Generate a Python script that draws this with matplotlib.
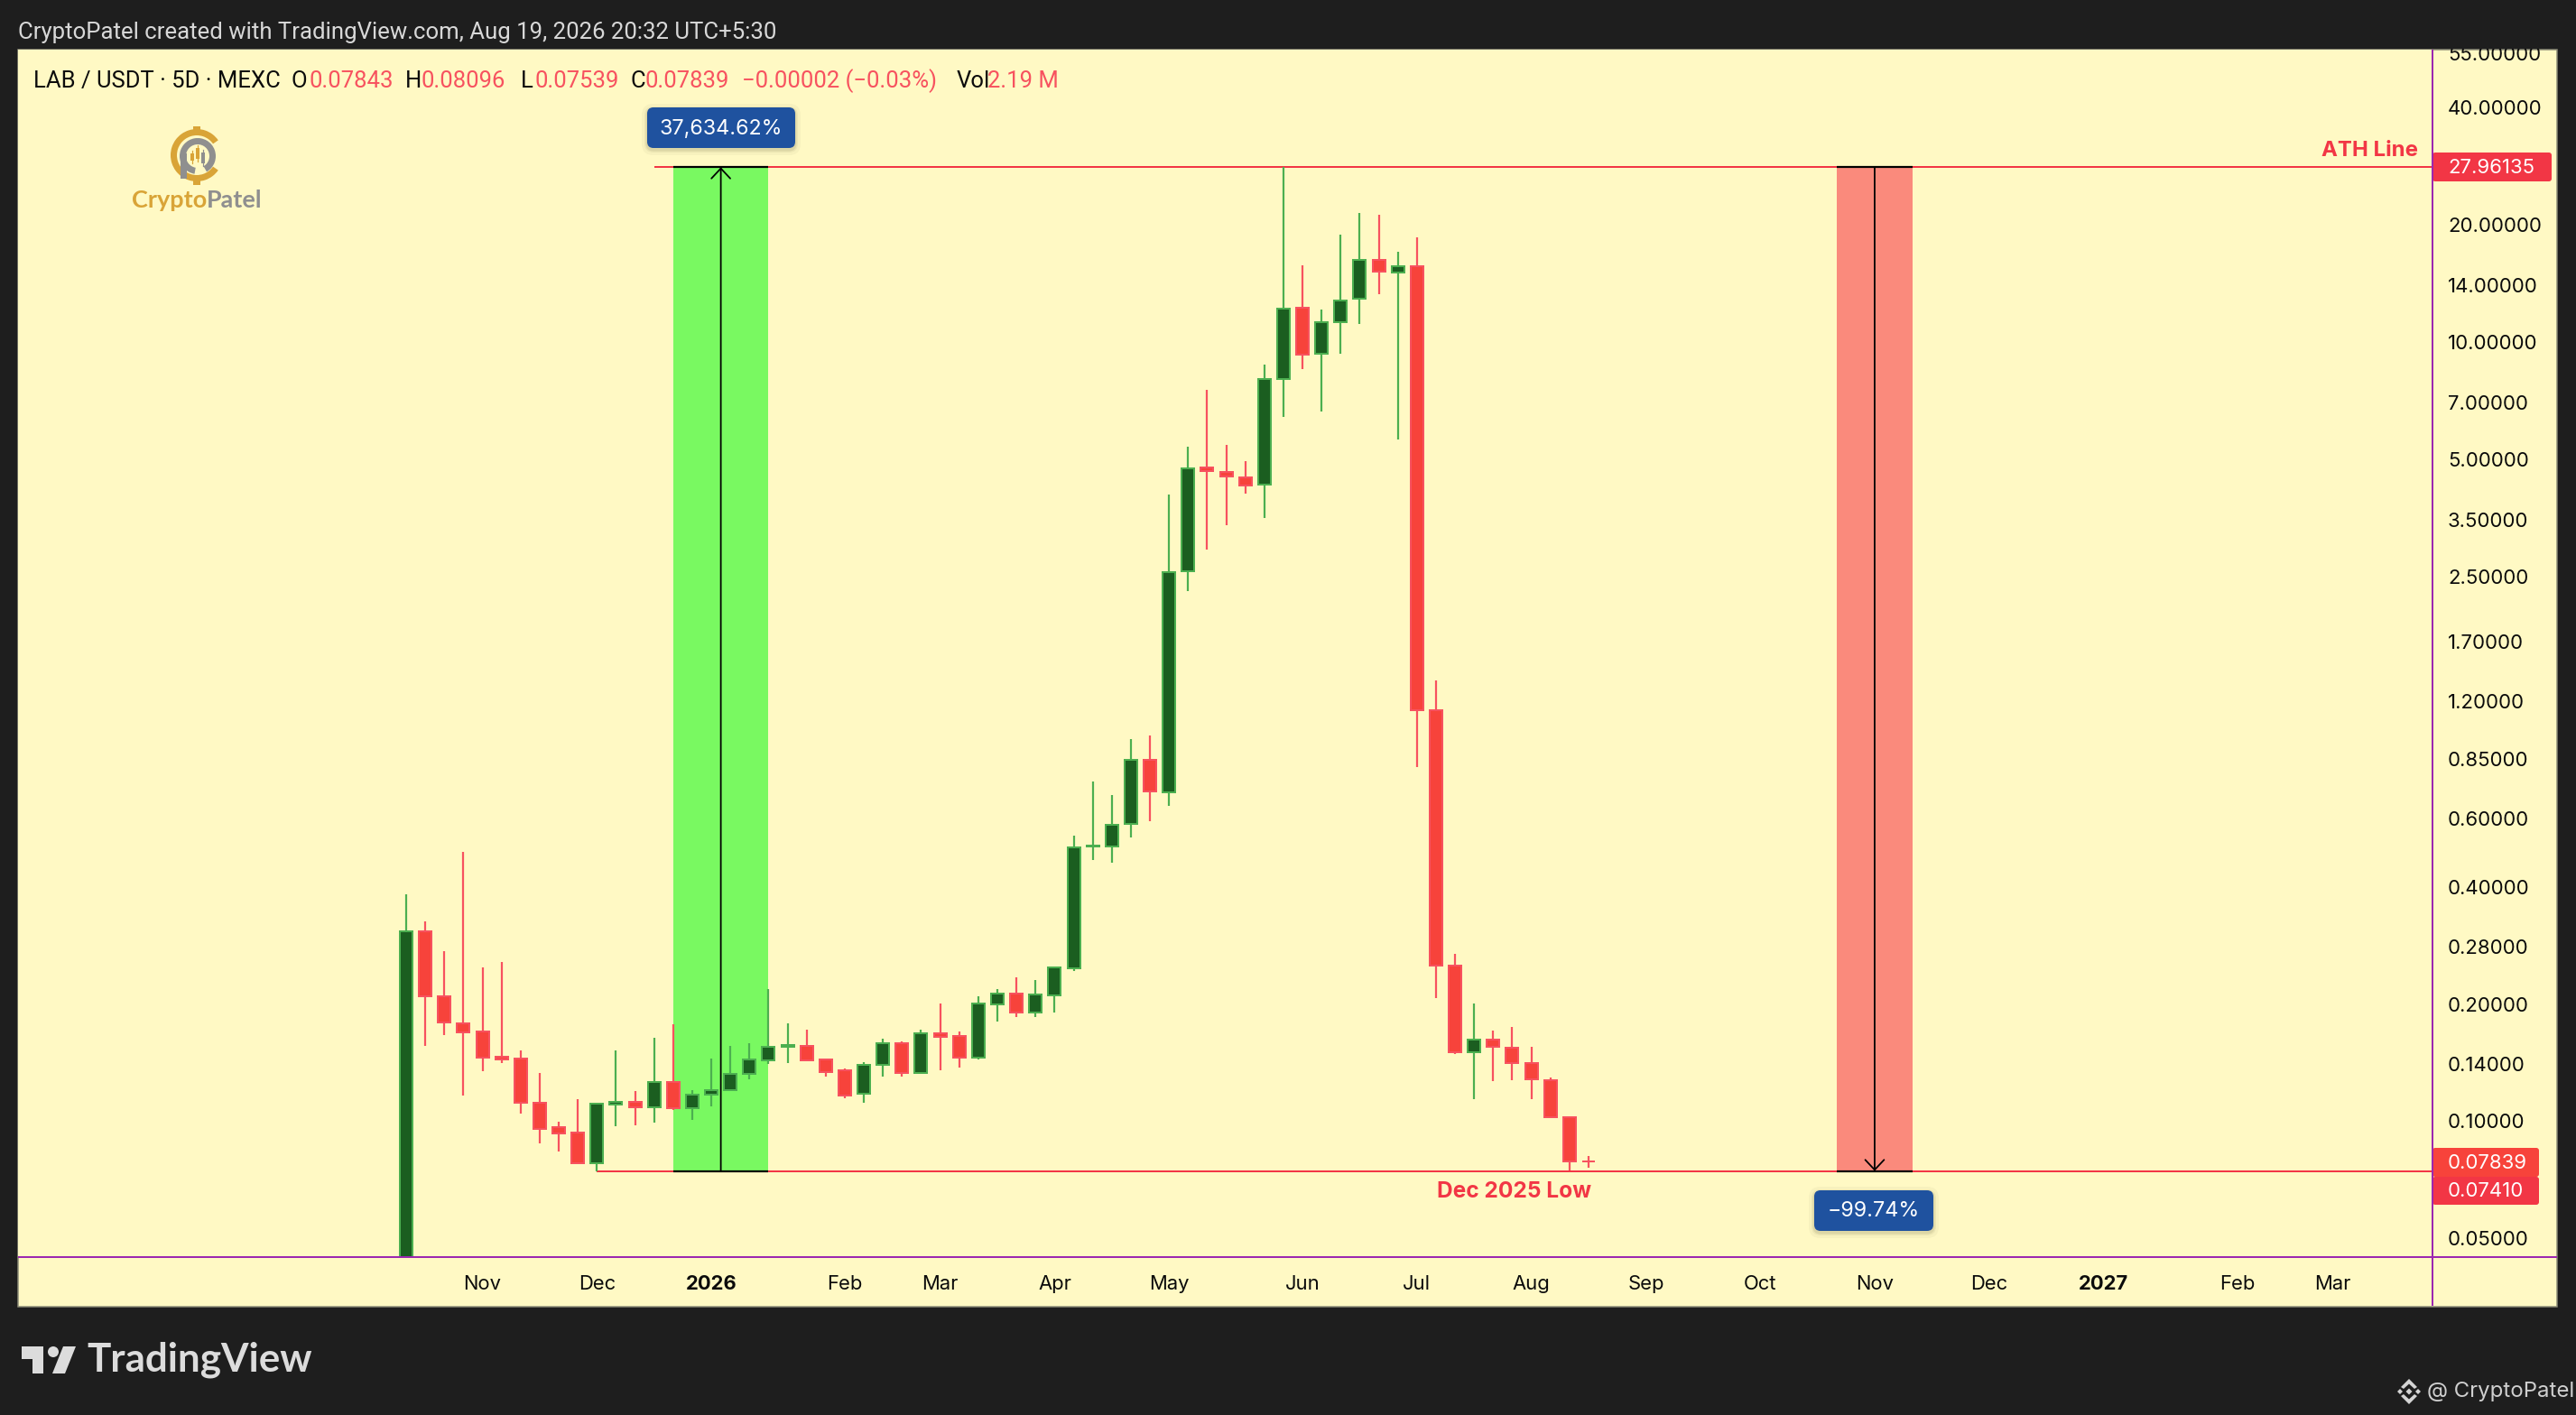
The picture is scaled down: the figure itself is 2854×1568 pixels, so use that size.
import numpy as np
import matplotlib
matplotlib.use("Agg")
import matplotlib.pyplot as plt
from matplotlib.patches import Rectangle, FancyBboxPatch, Polygon, Wedge, Circle
from matplotlib.transforms import ScaledTranslation

plt.rcParams['font.family'] = ['Inter', 'DejaVu Sans']

# ---------- data ----------
opens = [0.035, .306, .2078, .1771, .1688, .1453, .1438, .1108, .0959, .0928,
         .0778, .1100, .1113, .1082, .1252, .1073, .1166, .1194, .1314, .1424,
         .1547, .1550, .1431, .1342, .1168, .1386, .1575, .1321, .1670, .1644,
         .1451, .1988, .2116, .1895, .2097, .246, .5058, .5058, .5765, .8416,
         .6955, 2.569, 4.738, 4.623, 4.463, 4.295, 7.99, 12.21, 9.279, 11.19,
         12.86, 16.21, 15.02, 15.60, 1.132, .2493, .1493, .1612, .1540, .1401,
         .1270, .1021, .07843]
closes = [.306, .2078, .1781, .1686, .1451, .1436, .1108, .0952, .0927, .0778,
          .1102, .1113, .1082, .1252, .1076, .1166, .1194, .1314, .1431, .1542,
          .1561, .1428, .1333, .1160, .1386, .1575, .1321, .1670, .1641, .1451,
          .1991, .2116, .1895, .2103, .2469, .502, .5086, .5734, .8416, .6994,
          2.554, 4.712, 4.636, 4.487, 4.272, 7.99, 12.11, 9.253, 11.19, 12.72,
          16.17, 15.06, 15.56, 1.132, .2493, .1499, .1612, .1543, .1403, .1272,
          .1018, .07843, .07839]
highs = [.3804, .3242, .2719, .4888, .2469, .2551, .1512, .1323, .0992, .1133,
         .1102, .1512, .1190, .1629, .1765, .1196, .1441, .1553, .1578, .2173,
         .1774, .1710, .1431, .1359, .1411, .1621, .1595, .1710, .1995, .1691,
         .2083, .2173, .2329, .2292, .2469, .538, .7403, .6843, .9512, .9721,
         4.046, 5.355, 7.505, 5.414, 4.921, 8.716, 27.96135, 15.65, 12.05, 18.78,
         21.34, 21.10, 16.98, 18.47, 1.347, .2676, .1994, .1701, .1735, .1543,
         .1287, .1021, .08096]
lows = [.035, .1553, .1656, .1158, .1338, .1403, .1041, .0873, .0832, .0778,
        .0741, .0966, .0971, .0987, .1063, .1003, .1086, .1194, .1275, .1396,
        .1403, .1428, .1295, .1140, .1110, .1295, .1295, .1321, .1345, .1367,
        .1434, .1794, .1842, .1842, .1891, .2417, .4660, .4586, .5330, .5859,
        .6410, 2.285, 2.919, 3.371, 4.057, 3.522, 6.391, 8.484, 6.604, 9.279,
        11.07, 13.22, 5.594, .8078, .2065, .1476, .1135, .1264, .1270, .1135,
        .1018, .0745, .07539]

price_ticks = [55, 40, 20, 14, 10, 7, 5, 3.5, 2.5, 1.7, 1.2, .85, .6, .4, .28,
               .2, .14, .1, .05]
time_pos = [4, 10, 16, 23, 28, 34, 40, 47, 53, 59, 65, 71, 77, 83, 89, 96, 101]
time_labels = ['Nov', 'Dec', '2026', 'Feb', 'Mar', 'Apr', 'May', 'Jun', 'Jul',
               'Aug', 'Sep', 'Oct', 'Nov', 'Dec', '2027', 'Feb', 'Mar']
ath_price = 27.96135
low_price = 0.0741
last_price = 0.07839
green_range = (14, 19)
red_range = (75, 79)

# ---------- style ----------
DARK = '#1E1E1E'; CREAM = '#FFF9C4'; PURPLE = '#9C27B0'; LINE_RED = '#F23645'
UP_EDGE = '#4CAF50'; UP_FILL = '#1B5E20'; DN_EDGE = '#F7525F'; DN_FILL = '#F7433B'
BLUE = '#1F529F'; TXT = '#0B0B0B'; VAL_RED = '#F7525F'

W, H = 2854, 1568
def pt(px):
    return px * 0.72

fig = plt.figure(figsize=(W / 100, H / 100), dpi=100, facecolor=DARK)

L, R, T, B = 20, 2695, 54.5, 1393
ax = fig.add_axes([L / W, 1 - B / H, (R - L) / W, (B - T) / H], facecolor=CREAM, zorder=1)
ax.set_yscale('log')
ax.set_xlim(-20.35, 106.25)
ax.set_ylim(0.04456, 56.18)
for s in ax.spines.values():
    s.set_visible(False)

# measurement zones
for rng, col in ((green_range, '#79F961'), (red_range, '#FA8A7C')):
    ax.add_patch(Rectangle((rng[0], low_price), rng[1] - rng[0], ath_price - low_price,
                           facecolor=col, edgecolor='none', zorder=1))

# horizontal levels
ax.hlines(ath_price, 13, 106.25, color=LINE_RED, lw=pt(2), zorder=2)
ax.hlines(low_price, 10, 106.25, color=LINE_RED, lw=pt(2), zorder=2)
for rng in (green_range, red_range):
    ax.hlines([ath_price, low_price], rng[0], rng[1], color='black', lw=pt(2.2), zorder=2.5)

# arrows
arrow = dict(arrowstyle='->,head_length=0.8,head_width=0.75', color='black', lw=pt(1.8),
             shrinkA=0, shrinkB=0, mutation_scale=10)
ax.annotate('', xy=(sum(green_range) / 2, ath_price), xytext=(sum(green_range) / 2, low_price),
            arrowprops=arrow, zorder=2.6)
ax.annotate('', xy=(sum(red_range) / 2, low_price), xytext=(sum(red_range) / 2, ath_price),
            arrowprops=arrow, zorder=2.6)

# candles
xs = np.arange(len(opens))
for x, o, c, h, l in zip(xs, opens, closes, highs, lows):
    up = c >= o
    ax.vlines(x, l, h, color=UP_EDGE if up else DN_EDGE, lw=pt(2.2), capstyle='butt', zorder=3)
    ax.bar(x, abs(c - o), bottom=min(o, c), width=14 / 21.13,
           facecolor=UP_FILL if up else DN_FILL,
           edgecolor=UP_EDGE if up else DN_EDGE, linewidth=pt(2), zorder=4)

# axes ticks
ax.yaxis.tick_right()
ax.set_yticks(price_ticks)
ax.set_yticklabels([f'{v:.5f}' for v in price_ticks], fontsize=pt(22.2), color=TXT)
ax.minorticks_off()
ax.tick_params(axis='y', length=0, pad=pt(17))
down1 = ScaledTranslation(0, -1 / 100, fig.dpi_scale_trans)
for t in ax.get_yticklabels():
    t.set_transform(t.get_transform() + down1)
ax.set_xticks(time_pos)
ax.set_xticklabels(time_labels, fontsize=pt(22), color=TXT)
ax.tick_params(axis='x', length=0, pad=pt(20))
for t in ax.get_xticklabels():
    if t.get_text().isdigit():
        t.set_fontweight('bold')

# panel behind everything
fig.add_artist(Rectangle((L / W, 1 - 1447.5 / H), (2833 - L) / W, (1447.5 - T) / H,
                         transform=fig.transFigure, facecolor=CREAM,
                         edgecolor='#8C8C78', linewidth=pt(1.5), zorder=-1))

# ---------- overlay in pixel coordinates ----------
ov = fig.add_axes([0, 0, 1, 1], zorder=5)
ov.set_xlim(0, W); ov.set_ylim(H, 0); ov.axis('off')

ov.add_patch(Rectangle((0, 0), W, 53.5, facecolor=DARK, edgecolor='none'))
ov.text(20, 36, 'CryptoPatel created with TradingView.com, Aug 19, 2026 20:32 UTC+5:30',
        fontsize=pt(25.7), color='#D8D8D8', va='center', family=['Roboto', 'DejaVu Sans'])

# legend row
row = [(37, 'LAB / USDT · 5D · MEXC', TXT), (322, 'O', TXT), (342, '0.07843', VAL_RED),
       (449, 'H', TXT), (467, '0.08096', VAL_RED), (577, 'L', TXT), (592, '0.07539', VAL_RED),
       (698, 'C', TXT), (715, '0.07839', VAL_RED), (822, '−0.00002 (−0.03%)', VAL_RED),
       (1060, 'Vol', TXT), (1094, '2.19 M', VAL_RED)]
for x, s, c in row:
    ov.text(x, 90, s, fontsize=pt(25.6), color=c, va='center', family=['Roboto', 'DejaVu Sans'])

# measurement pills
def pill(x0, x1, y0, y1, text, col, r=7, shadow=True, ha='center', tx=None, fs=23.3):
    if shadow:
        for g, a in ((6, .05), (3, .08), (1.5, .12)):
            ov.add_patch(FancyBboxPatch((x0 - g, y0 - g + 2), x1 - x0 + 2 * g, y1 - y0 + 2 * g,
                                        boxstyle=f'round,pad=0,rounding_size={r + g}',
                                        facecolor='#6E6A40', edgecolor='none', alpha=a))
    ov.add_patch(FancyBboxPatch((x0, y0), x1 - x0, y1 - y0,
                                boxstyle=f'round,pad=0,rounding_size={r}',
                                facecolor=col, edgecolor='none'))
    ov.text((x0 + x1) / 2 if tx is None else tx, (y0 + y1) / 2 + 1, text, color='white',
            fontsize=pt(fs), ha=ha, va='center')

pill(717, 881, 119, 164, '37,634.62%', BLUE)
pill(2010, 2142, 1319, 1364, '−99.74%', BLUE)
pill(2695, 2827, 169, 201, '27.96135', LINE_RED, r=3, shadow=False, ha='left', tx=2712, fs=22.2)
pill(2695, 2813, 1272, 1304, '0.07839', '#F7433B', r=3, shadow=False, ha='left', tx=2712, fs=22.2)
pill(2695, 2813, 1304, 1335, '0.07410', LINE_RED, r=3, shadow=False, ha='left', tx=2712, fs=22.2)

# frame lines
ov.plot([2695, 2695], [T, 1447], color=PURPLE, lw=pt(2), solid_capstyle='butt')
ov.plot([L, 2833], [1393, 1393], color=PURPLE, lw=pt(2), solid_capstyle='butt')

ov.text(2679, 166.5, 'ATH Line', color=LINE_RED, fontsize=pt(24), fontweight='bold', ha='right', va='center')
ov.text(1678, 1320.5, 'Dec 2025 Low', color=LINE_RED, fontsize=pt(24.5), fontweight='bold', ha='center', va='center')

# CryptoPatel logo
GOLD = '#D9A437'; GREY = '#8F8F8F'
lc = (218, 172)
ov.add_patch(Wedge(lc, 29, 35, 325, width=7, facecolor=GOLD, edgecolor='none', transform=ov.transData))
ov.add_patch(Rectangle((214, 140), 8, 5, facecolor=GOLD))
ov.add_patch(Rectangle((214, 200), 8, 5, facecolor=GOLD))
ov.add_patch(Wedge((219, 173), 20, 100, 420, width=7, facecolor=GREY, edgecolor='none'))
ov.add_patch(Rectangle((200, 170), 7, 28, facecolor=GREY))
for x, y0, y1, c in ((213, 170, 178, GOLD), (219, 164, 176, GOLD), (225, 169, 181, GREY)):
    ov.plot([x, x], [y0 - 3, y1 + 3], color=c, lw=pt(1.2))
    ov.add_patch(Rectangle((x - 2, y0), 4, y1 - y0, facecolor=c))
ov.text(229, 222, 'Crypto', color=GOLD, fontsize=pt(27), fontweight='bold', ha='right', va='center',
        family=['Lato', 'DejaVu Sans'])
ov.text(229, 222, 'Patel', color=GREY, fontsize=pt(27), fontweight='bold', ha='left', va='center',
        family=['Lato', 'DejaVu Sans'])

# TradingView logo
LOGO = '#DCDCDC'
ov.add_patch(Polygon([(24, 1492), (48, 1492), (48, 1522), (36, 1522), (36, 1506), (24, 1506)], facecolor=LOGO))
ov.add_patch(Circle((59, 1498), 6, facecolor=LOGO))
ov.add_patch(Polygon([(70, 1492), (84, 1492), (72, 1522), (58, 1522)], facecolor=LOGO))
ov.text(96, 1507, 'TradingView', color=LOGO, fontsize=pt(44), fontweight='bold', va='center',
        family=['Lato', 'DejaVu Sans'])

# Binance mark and handle
c = (2669, 1542)
def dia(cx, cy, r):
    ov.add_patch(Polygon([(cx - r, cy), (cx, cy - r), (cx + r, cy), (cx, cy + r)], facecolor='#D4D4D4'))
dia(c[0], c[1], 3.5); dia(c[0] - 10, c[1], 3); dia(c[0] + 10, c[1], 3)
for s in (-1, 1):
    ov.add_patch(Polygon([(c[0] - 9, c[1] + s * 5), (c[0], c[1] + s * 14), (c[0] + 9, c[1] + s * 5),
                          (c[0] + 6, c[1] + s * 3), (c[0], c[1] + s * 8.5), (c[0] - 6, c[1] + s * 3)],
                         facecolor='#D4D4D4'))
ov.text(2689, 1542, '@ CryptoPatel', color='#CFCFCF', fontsize=pt(24), va='center')

fig.savefig('out.png', dpi=100, facecolor=DARK)
